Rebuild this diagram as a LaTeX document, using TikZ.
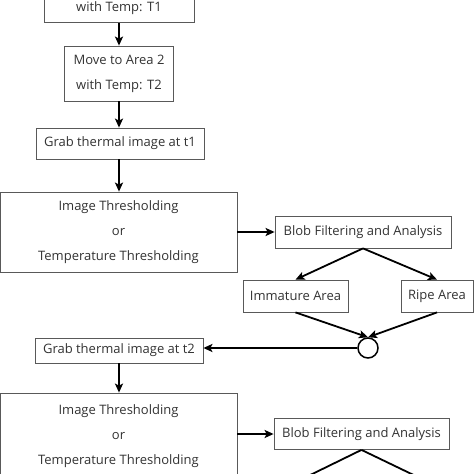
\documentclass[tikz,border=0pt]{standalone}
\usepackage{fontspec}
\setmainfont{Open Sans}
\usetikzlibrary{arrows.meta}
\begin{document}
\begin{tikzpicture}[x=1pt,y=-1pt,
  box/.style={draw=black!65,line width=0.8pt,inner sep=0pt,text=black!80,font=\fontsize{13}{25}\selectfont,align=center},
  arr/.style={line width=1.8pt,-{Stealth[length=9pt,width=8pt,inset=2pt]}},
  ln/.style={line width=1.8pt}]
\useasboundingbox (0,0) rectangle (474,474);
\fill[white] (0,0) rectangle (474,474);
\node[box,minimum width=150pt,minimum height=44pt,anchor=south] (top) at (119,23) {\\with Temp: T1};
\node[box,minimum width=109pt,minimum height=55pt] (mv2) at (119,73.5) {Move to Area 2\\with Temp: T2};
\node[box,minimum width=168pt,minimum height=31pt] (g1) at (120,143.5) {Grab thermal image at t1};
\node[box,minimum width=237pt,minimum height=80pt] (big1) at (118.5,232) {Image Thresholding\\or\\Temperature Thresholding};
\node[box,minimum width=176pt,minimum height=32pt] (b1) at (363,232) {Blob Filtering and Analysis};
\node[box,minimum width=105pt,minimum height=32pt] (imm) at (295.5,296) {Immature Area};
\node[box,minimum width=72pt,minimum height=32pt] (ripe) at (437,296) {Ripe Area};
\node[draw=black,line width=1.5pt,circle,minimum size=20pt,inner sep=0pt] (c) at (368,348) {};
\node[box,minimum width=168pt,minimum height=25pt] (g2) at (119,350.5) {Grab thermal image at t2};
\node[box,minimum width=237pt,minimum height=86pt] (big2) at (118.5,436) {Image Thresholding\\or\\Temperature Thresholding};
\node[box,minimum width=175pt,minimum height=31pt] (b2) at (361.5,434) {Blob Filtering and Analysis};
\coordinate (d1) at (300,480);
\coordinate (d2) at (424,480);
\draw[arr] (top.south) -- (top.south |- mv2.north);
\draw[arr] (top.south |- mv2.south) -- (top.south |- g1.north);
\draw[arr] (top.south |- g1.south) -- (top.south |- big1.north);
\draw[arr] (big1.east) -- (b1.west);
\draw[arr] (b1.south) -- (imm.north);
\draw[arr] (b1.south) -- (ripe.north);
\draw[arr] (imm.south) -- (c.north);
\draw[arr] (ripe.south) -- (c.north);
\draw[arr] (c.west) -- (c.west -| g2.east);
\draw[arr] (g2.south) -- (g2.south |- big2.north);
\draw[arr] (big2.east |- b2.west) -- (b2.west);
\draw[ln] (b2.south) -- (d1);
\draw[ln] (b2.south) -- (d2);
\end{tikzpicture}
\end{document}
